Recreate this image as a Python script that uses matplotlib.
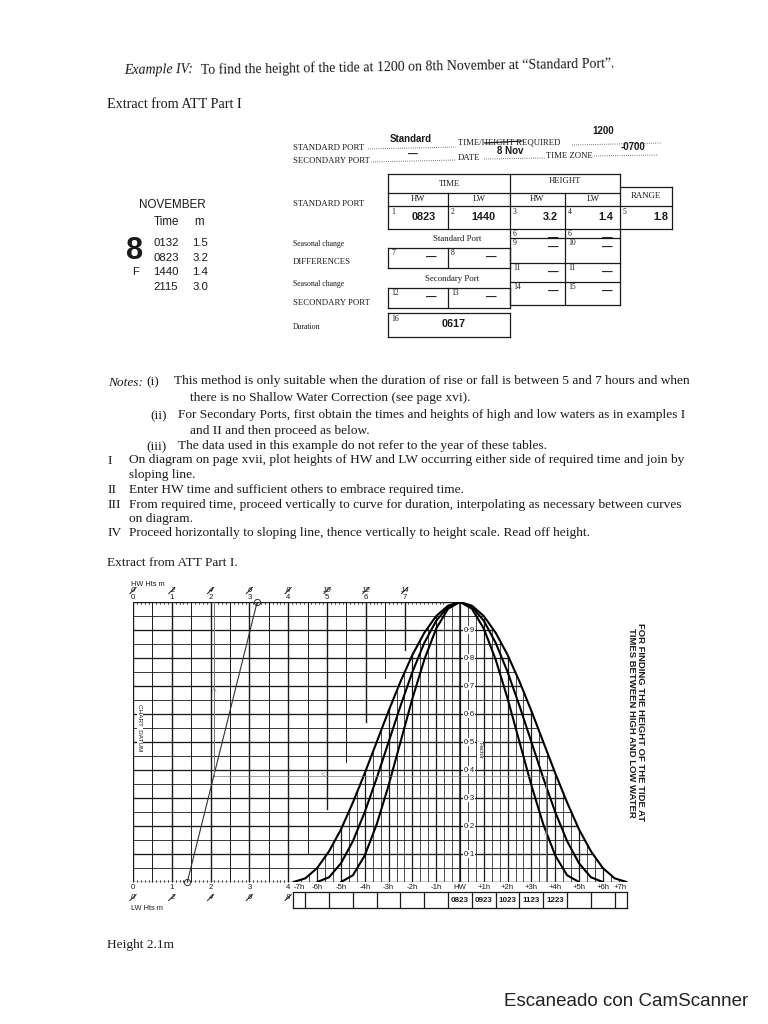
import matplotlib
matplotlib.use("Agg")
import matplotlib.pyplot as plt
from matplotlib.patches import Polygon
import numpy as np

plt.rcParams['font.family'] = ['Liberation Serif', 'DejaVu Serif']

# tide table extract for 8 November
tide_times = ["0132", "0823", "1440", "2115"]
tide_heights = [1.5, 3.2, 1.4, 3.0]

# form values
hw_time, lw_time = "0823", "1440"
hw_height, lw_height, tide_range = 3.2, 1.4, 1.8
duration = "0617"
answer_height = 2.1
required_offset = 3.62   # hours after HW for 1200
required_factor = 0.38

# diagram scales
hour_ticks = list(range(-7, 8))
hour_labels = ["-7h", "-6h", "-5h", "-4h", "-3h", "-2h", "-1h", "HW",
               "+1h", "+2h", "+3h", "+4h", "+5h", "+6h", "+7h"]
row_hours = [0, 1, 2, 3, 4]
row_times = ["0823", "0923", "1023", "1123", "1223"]
factor_ticks = [0.1, 0.2, 0.3, 0.4, 0.5, 0.6, 0.7, 0.8, 0.9]
hw_scale = [0, 1, 2, 3, 4, 5, 6, 7]
hw_scale_ft = ["0", "2", "4", "6", "8", "10", "12", "14"]
lw_scale = [0, 1, 2, 3, 4]
lw_scale_ft = ["0", "2", "4", "6", "8"]
upper_lines_m = [4.5, 5.0, 5.5, 6.0, 6.5, 7.0]
upper_lines_stop = [0.10, 0.26, 0.43, 0.57, 0.73, 0.83]

# tidal curves: factor against hours from HW
curve_t = [0, 0.5, 1, 1.5, 2, 2.5, 3, 3.5, 4, 4.5, 5, 5.5, 6, 6.5, 7]
factor_5h = [1.0, 0.976, 0.905, 0.794, 0.655, 0.50, 0.345, 0.206, 0.095, 0.024, 0.0]
factor_6h = [1.0, 0.983, 0.933, 0.854, 0.75, 0.629, 0.50, 0.371, 0.25, 0.146, 0.067, 0.017, 0.0]
factor_7h = [1.0, 0.987, 0.95, 0.89, 0.811, 0.716, 0.611, 0.50, 0.389, 0.284, 0.188, 0.11, 0.05, 0.013, 0.0]

HW_X, HOUR_PX = 460.0, 23.8
HGT_X0, HGT_PX = 133.0, 38.8
INK = "#1a1a1a"
SANS = ['Liberation Sans', 'DejaVu Sans']
TILT = 0.9   # the scanned page is slightly rotated


def m2h(m):
    """height in metres -> diagram x (hours)"""
    return (HGT_X0 + HGT_PX * np.asarray(m, dtype=float) - HW_X) / HOUR_PX


fig = plt.figure(figsize=(7.68, 10.24), dpi=100)
page = fig.add_axes([0, 0, 1, 1])
page.set_xlim(0, 768)
page.set_ylim(1024, 0)
page.axis("off")


def txt(x, y, s, size=9.6, **kw):
    kw.setdefault("va", "center")
    kw.setdefault("color", INK)
    page.text(x, y, s, fontsize=size, **kw)


def line_txt(x, y, s, size=9.6, **kw):
    """left-anchored text following the tilt of the scan"""
    txt(x, y, s, size=size, rotation=TILT, rotation_mode="anchor", **kw)


def dots(x0, x1, y0, y1):
    page.plot([x0, x1], [y0, y1], color=INK, lw=0.7, ls=(0, (0.6, 1.6)))


# ---- heading
line_txt(124, 71, "Example IV:", size=10, style="italic")
line_txt(201, 70, "To find the height of the tide at 1200 on 8th November at \u201cStandard Port\u201d.", size=10)
txt(107, 104, "Extract from ATT Part I", size=10.2)

# ---- tide table
txt(172, 205, "NOVEMBER", size=8.4, family=SANS, ha="center")
txt(166, 222, "Time", size=8.4, family=SANS, ha="center")
txt(199, 222, "m", size=8.4, family=SANS, ha="center")
txt(135, 251, "8", size=22, family=SANS, weight="bold", ha="center")
txt(136, 272, "F", size=8.2, family=SANS, ha="center")
for i, (t, h) in enumerate(zip(tide_times, tide_heights)):
    y = 243 + i * 14.7
    txt(166, y, t, size=8.2, family=SANS, ha="center")
    txt(200, y, f"{h:.1f}", size=8.2, family=SANS, ha="center")

# ---- form header
fs_form = 6.3
txt(293, 148, "STANDARD PORT", size=fs_form)
dots(368, 456, 149, 147)
txt(458, 143, "TIME/HEIGHT REQUIRED", size=fs_form)
dots(572, 662, 145, 143)
page.plot([485, 522], [143, 141], color=INK, lw=0.9)
txt(293, 161, "SECONDARY PORT", size=fs_form)
dots(371, 456, 162, 160)
txt(458, 158, "DATE", size=fs_form)
dots(484, 545, 159, 158)
txt(546, 156, "TIME ZONE", size=fs_form)
dots(594, 658, 156, 155)
txt(411, 139, "Standard", size=7, family=SANS, weight="bold", ha="center")
txt(603, 131, "1200", size=7, family=SANS, weight="bold", ha="center")
txt(413, 155, "\u2014", size=7, family=SANS, weight="bold", ha="center")
txt(510, 151, "8 Nov", size=7, family=SANS, weight="bold", ha="center")
txt(633, 147, "-0700", size=7, family=SANS, weight="bold", ha="center")

# ---- form table
L, TM, TR, HM, HR, RR = 388, 448, 510, 565, 620, 672
lw_tab = 0.9


def hline(y, x0, x1):
    page.plot([x0, x1], [y, y], color=INK, lw=lw_tab)


def vline(x, y0, y1):
    page.plot([x, x], [y0, y1], color=INK, lw=lw_tab)


hline(174, L, HR); hline(193, L, HR); hline(206, L, RR)
hline(187, HR, RR)
hline(229, L, RR); hline(238, TR, HR); hline(263, TR, HR)
hline(282, TR, HR); hline(305, TR, HR)
vline(L, 174, 229); vline(TR, 174, 305); vline(HR, 174, 305)
vline(TM, 193, 229); vline(HM, 193, 305); vline(RR, 187, 229)
# time difference boxes
for y0, y1 in [(248, 268), (288, 308)]:
    hline(y0, L, TR); hline(y1, L, TR)
    vline(L, y0, y1); vline(TM, y0, y1); vline(TR, y0, y1)
hline(313, L, TR); hline(337, L, TR); vline(L, 313, 337); vline(TR, 313, 337)

txt(449, 184, "TIME", size=6.3, ha="center")
txt(565, 181, "HEIGHT", size=6.3, ha="center")
txt(418, 199, "HW", size=6.3, ha="center")
txt(479, 199, "LW", size=6.3, ha="center")
txt(537, 199, "HW", size=6.3, ha="center")
txt(593, 199, "LW", size=6.3, ha="center")
txt(646, 196, "RANGE", size=6.3, ha="center")

cells = [(L, 1, hw_time), (TM, 2, lw_time), (TR, 3, f"{hw_height:.1f}"),
         (HM, 4, f"{lw_height:.1f}"), (HR, 5, f"{tide_range:.1f}")]
for x0, n, v in cells:
    txt(x0 + 3, 212, str(n), size=5.5)
    txt(x0 + 48, 217, v, size=7.8, family=SANS, weight="bold", ha="right")
for x0, y0, n in [(TR, 229, 6), (HM, 229, 6), (TR, 238, 9), (HM, 238, 10),
                  (TR, 263, 11), (HM, 263, 11), (TR, 282, 14), (HM, 282, 15),
                  (L, 248, 7), (TM, 248, 8), (L, 288, 12), (TM, 288, 13)]:
    txt(x0 + 3, y0 + 5, str(n), size=5.5)
    txt(x0 + 48, y0 + 10, "\u2014", size=7.6, family=SANS, weight="bold", ha="right")
txt(391, 319, "16", size=5.5)
txt(454, 324, duration, size=7.8, family=SANS, weight="bold", ha="center")
txt(457, 239, "Standard Port", size=6.3, ha="center")
txt(452, 279, "Secondary Port", size=6.3, ha="center")

txt(293, 204, "STANDARD PORT", size=6.3)
txt(293, 244, "Seasonal change", size=5.6)
txt(293, 262, "DIFFERENCES", size=6.3)
txt(293, 284, "Seasonal change", size=5.6)
txt(293, 303, "SECONDARY PORT", size=6.3)
txt(293, 327, "Duration", size=5.6)

# ---- notes
fn = 9.6
txt(108, 383, "Notes:", size=fn, style="italic")
txt(146, 382, "(i)", size=fn)
txt(174, 381, "This method is only suitable when the duration of rise or fall is between 5 and 7 hours and when", size=fn)
txt(190, 398, "there is no Shallow Water Correction (see page xvi).", size=fn)
txt(150, 416, "(ii)", size=fn)
txt(178, 415, "For Secondary Ports, first obtain the times and heights of high and low waters as in examples I", size=fn)
txt(190, 431, "and II and then proceed as below.", size=fn)
txt(146, 447, "(iii)", size=fn)
txt(178, 446, "The data used in this example do not refer to the year of these tables.", size=fn)
txt(108, 461, "I", size=fn)
txt(129, 460, "On diagram on page xvii, plot heights of HW and LW occurring either side of required time and join by", size=fn)
txt(129, 475, "sloping line.", size=fn)
txt(108, 490, "II", size=fn)
txt(129, 490, "Enter HW time and sufficient others to embrace required time.", size=fn)
txt(108, 505, "III", size=fn)
txt(129, 505, "From required time, proceed vertically to curve for duration, interpolating as necessary between curves", size=fn)
txt(129, 519, "on diagram.", size=fn)
txt(108, 533, "IV", size=fn)
txt(129, 533, "Proceed horizontally to sloping line, thence vertically to height scale. Read off height.", size=fn)
txt(107, 563, "Extract from ATT Part I.", size=fn)

# ---- diagram
ax = fig.add_axes([HGT_X0 / 768, 142 / 1024, (632 - HGT_X0) / 768, 280 / 1024])
ax.set_xlim(m2h(0), (632 - HW_X) / HOUR_PX)
ax.set_ylim(0, 1)
ax.axis("off")
ax.patch.set_alpha(0)

t = np.array(curve_t)
f7 = np.array(factor_7h)
x_left = m2h(0)

# clip regions built from the outer (7h) curve
env = Polygon(np.column_stack([np.r_[-t[::-1], t[1:]], np.r_[f7[::-1], f7[1:]]]),
              closed=True, fc="none", ec="none")
ax.add_patch(env)
hreg = Polygon(np.column_stack([np.r_[x_left, x_left, t], np.r_[0, 1, f7]]),
               closed=True, fc="none", ec="none")
ax.add_patch(hreg)

# horizontal grid
for k in range(1, 20):
    f = k * 0.05
    ln, = ax.plot([x_left, 7], [f, f], color=INK, lw=0.95 if k % 2 == 0 else 0.6)
    ln.set_clip_path(hreg)

# time grid under the curves
sub = np.arange(-7, 7.001, 1 / 3)
vl = ax.vlines(sub, 0, 1, color=INK, lw=0.55)
vl.set_clip_path(env)
vh = ax.vlines(hour_ticks, 0, 1, color=INK, lw=0.9)
vh.set_clip_path(env)

# height grid
for m in np.arange(0, 4.01, 0.5):
    ax.plot([m2h(m)] * 2, [0, 1], color=INK, lw=1.0 if m % 1 == 0 else 0.7)
for m, stop in zip(upper_lines_m, upper_lines_stop):
    ax.plot([m2h(m)] * 2, [stop, 1], color=INK, lw=1.0 if m % 1 == 0 else 0.7)

# frame lines
ax.plot([x_left, 0], [1, 1], color=INK, lw=1.0)
ax.plot([x_left, 7], [0, 0], color=INK, lw=1.0)
ax.plot([0, 0], [0, 1], color=INK, lw=1.1)

# scale ticks along top and bottom
for m in np.arange(0, 8.01, 0.1):
    ax.plot([m2h(m)] * 2, [1, 0.992], color=INK, lw=0.5, clip_on=False)
for m in np.arange(0, 4.01, 0.1):
    ax.plot([m2h(m)] * 2, [0, 0.008], color=INK, lw=0.5, clip_on=False)

# tidal curves
for fac in [factor_5h, factor_6h, factor_7h]:
    tt = np.array(curve_t[:len(fac)])
    ff = np.array(fac)
    ax.plot(np.r_[-tt[::-1], tt[1:]], np.r_[ff[::-1], ff[1:]], color="black", lw=1.5,
            solid_capstyle="round")

# factor labels
for f in factor_ticks:
    ax.text(0.15, f, f"0\u00b7{int(round(f * 10))}", fontsize=5.6, family=SANS, va="center",
            ha="left", color=INK, bbox=dict(fc="white", ec="none", pad=0.3))
ax.text(0.85, 0.47, "Factor", fontsize=4.2, family=SANS, rotation=-90, va="center",
        ha="center", color=INK, bbox=dict(fc="white", ec="none", pad=0.2))
ax.text(m2h(0.18), 0.55, "CHART  DATUM", fontsize=4.6, family=SANS, rotation=-90,
        va="center", ha="center", color=INK, bbox=dict(fc="white", ec="none", pad=0.2))

# height scale labels (feet values are struck through on the original)
for m, ft in zip(hw_scale, hw_scale_ft):
    ax.text(m2h(m), 1.003, str(m), fontsize=5.6, family=SANS, ha="center", va="bottom",
            color=INK, clip_on=False)
    ax.text(m2h(m), 1.028, ft, fontsize=5.6, family=SANS, style="italic", ha="center",
            va="bottom", color=INK, clip_on=False)
    ax.plot([m2h(m) - 0.13, m2h(m) + 0.13], [1.03, 1.052], color=INK, lw=0.7, clip_on=False)
ax.text(m2h(-0.05), 1.05, "HW Hts m", fontsize=5.3, family=SANS, ha="left", va="bottom",
        color=INK, clip_on=False)
for m, ft in zip(lw_scale, lw_scale_ft):
    ax.text(m2h(m), -0.008, str(m), fontsize=5.6, family=SANS, ha="center", va="top",
            color=INK, clip_on=False)
    ax.text(m2h(m), -0.043, ft, fontsize=5.6, family=SANS, style="italic", ha="center",
            va="top", color=INK, clip_on=False)
    ax.plot([m2h(m) - 0.13, m2h(m) + 0.13], [-0.066, -0.045], color=INK, lw=0.7, clip_on=False)
ax.text(m2h(-0.05), -0.082, "LW Hts m", fontsize=5.3, family=SANS, ha="left", va="top",
        color=INK, clip_on=False)

# time axis labels and entry row
for h, lab in zip(hour_ticks, hour_labels):
    ha = "left" if h == -7 else ("right" if h == 7 else "center")
    ax.text(h, -0.008, lab, fontsize=5.6, family=SANS, ha=ha, va="top",
            color=INK, clip_on=False)
edges = np.r_[-7, np.arange(-6.5, 6.51, 1), 7]
y0, y1 = -0.036, -0.093
ax.plot([-7, 7], [y0, y0], color=INK, lw=0.9, clip_on=False)
ax.plot([-7, 7], [y1, y1], color=INK, lw=0.9, clip_on=False)
for e in edges:
    ax.plot([e, e], [y0, y1], color=INK, lw=0.9, clip_on=False)
for h, s in zip(row_hours, row_times):
    ax.text(h, (y0 + y1) / 2, s, fontsize=5.8, family=SANS, weight="bold", ha="center",
            va="center", color=INK, clip_on=False)

# worked example: sloping line and construction lines
ax.plot([m2h(lw_height), m2h(hw_height)], [0, 1], color="#333333", lw=0.8)
ax.plot([m2h(lw_height), m2h(hw_height)], [0, 1], ls="none", marker="o", ms=4.5,
        mfc="none", mec="#333333", mew=0.7, clip_on=False)
pencil = "#777777"
ax.plot([required_offset] * 2, [0, required_factor], color=pencil, lw=0.7)
ax.plot([m2h(answer_height), required_offset], [required_factor] * 2, color=pencil, lw=0.5)
ax.plot([m2h(answer_height)] * 2, [required_factor, 1], color=pencil, lw=0.7)
ax.text(required_offset, 0.17, "^", fontsize=7, color=pencil, ha="center", va="center")
ax.text(m2h(4.9), required_factor, "<", fontsize=6, color=pencil, ha="center", va="center")
ax.text(m2h(answer_height), 0.68, "^", fontsize=7, color=pencil, ha="center", va="center")

# side title
ax.text(7.4, 0.57, "FOR FINDING THE HEIGHT OF THE TIDE AT\nTIMES BETWEEN HIGH AND LOW WATER",
        fontsize=6.8, family=SANS, weight="bold", rotation=-90, ha="center", va="center",
        multialignment="center", color=INK, clip_on=False, linespacing=1.05)

# ---- footer
txt(107, 945, "Height 2.1m", size=9.6)
txt(748, 1001, "Escaneado con CamScanner", size=13.5, family=SANS, ha="right", color="#222222")

fig.savefig("out.png", dpi=100)
